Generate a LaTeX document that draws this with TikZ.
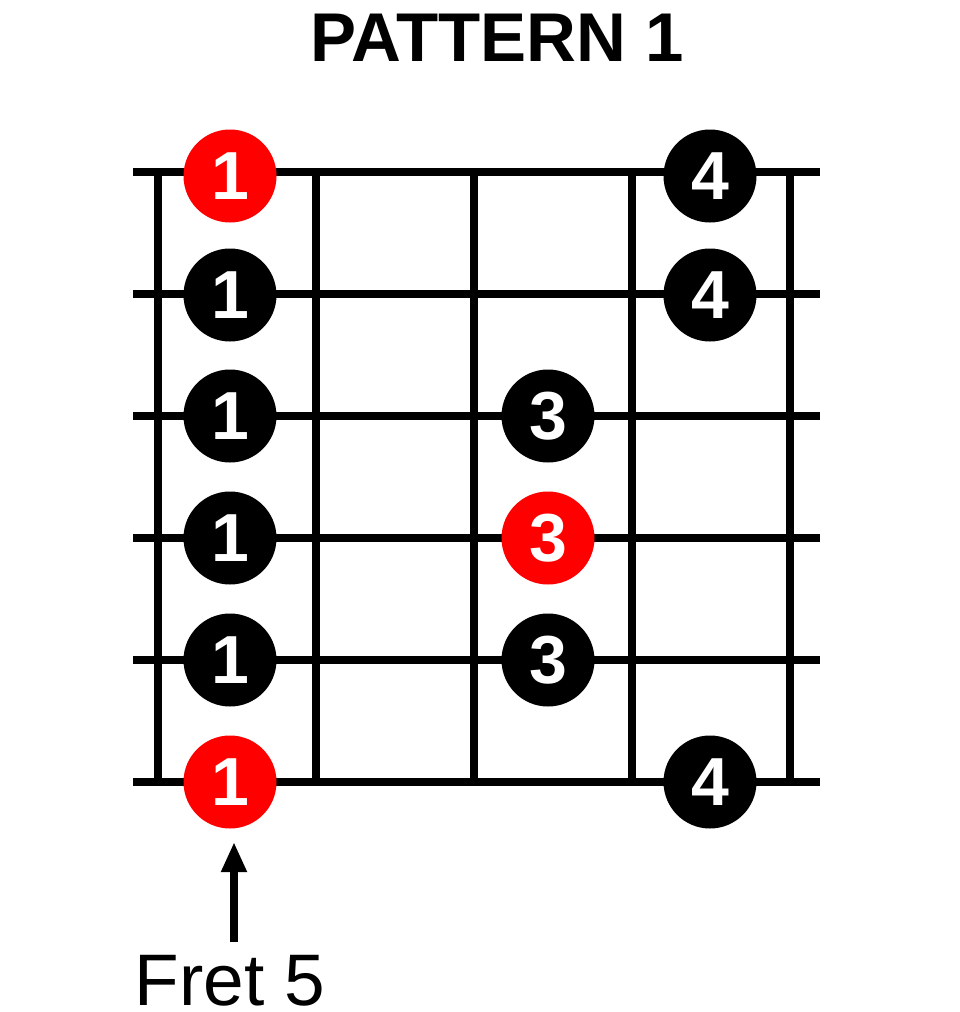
\documentclass[tikz,border=0pt]{standalone}
\usepackage{fontspec}
\setmainfont{Liberation Sans}
\usetikzlibrary{arrows.meta}
\definecolor{rootred}{RGB}{255,0,0}
\tikzset{
  gridline/.style={line width=8pt, black},
  dot/.style={circle, fill=black, minimum size=93pt, inner sep=0pt, text=white, font=\fontsize{68}{68}\selectfont\bfseries},
  rootdot/.style={dot, fill=rootred},
  pointer/.style={line width=8pt, -{Triangle[length=30pt,width=24pt]}}
}
\begin{document}
\begin{tikzpicture}[x=1pt,y=-1pt]
\useasboundingbox (0,0) rectangle (960,1012);
% title
\node[anchor=base, font=\fontsize{69}{69}\selectfont\bfseries, inner sep=0pt] (title) at (497,61) {PATTERN 1};
% strings
\foreach \y in {172,294,416,538,660,782} {
  \draw[gridline] (133,\y) -- (820,\y);
}
% frets
\foreach \x in {158,316,474,632,790} {
  \draw[gridline] (\x,172) -- (\x,782);
}
% dots
\node[rootdot] (s1a) at (230,176) {1};
\node[dot]     (s1b) at (710,176) {4};
\node[dot]     (s2a) at (230,295) {1};
\node[dot]     (s2b) at (710,295) {4};
\node[dot]     (s3a) at (230,416) {1};
\node[dot]     (s3b) at (548,416) {3};
\node[dot]     (s4a) at (230,538) {1};
\node[rootdot] (s4b) at (548,538) {3};
\node[dot]     (s5a) at (230,660) {1};
\node[dot]     (s5b) at (548,660) {3};
\node[rootdot] (s6a) at (230,782) {1};
\node[dot]     (s6b) at (710,782) {4};
% label and arrow
\node[anchor=base, font=\fontsize{73}{73}\selectfont, inner sep=0pt] (fret) at (230,1005) {Fret 5};
\coordinate (tail) at (234,942);
\coordinate (tip) at (234,842);
\draw[pointer] (tail) -- (tip);
\end{tikzpicture}
\end{document}
